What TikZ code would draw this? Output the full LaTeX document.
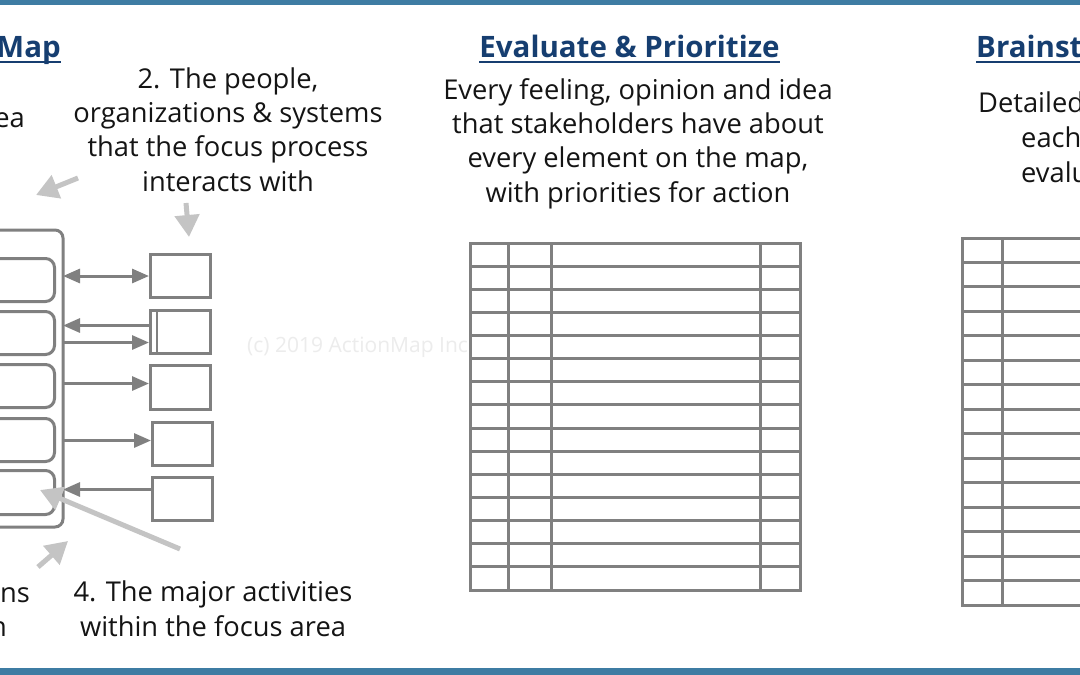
\documentclass[tikz,border=0pt]{standalone}
\usepackage{fontspec}
\setmainfont{Open Sans}
\usetikzlibrary{arrows.meta,calc}
\definecolor{barblue}{RGB}{62,124,163}
\definecolor{titleblue}{RGB}{22,62,112}
\definecolor{linegray}{RGB}{128,128,128}
\definecolor{lightgray}{RGB}{196,196,196}
\definecolor{wmgray}{RGB}{236,236,236}
\definecolor{txt}{RGB}{20,20,20}
\tikzset{
  title/.style={font=\fontsize{29.5}{34}\selectfont\bfseries, text=titleblue, inner sep=0pt},
  para/.style={font=\fontsize{27.3}{34.3}\selectfont, text=txt, inner sep=0pt, align=center},
  ulin/.style={titleblue, line width=2pt},
  actbox/.style={draw=linegray, line width=3pt, rounded corners=9pt, minimum width=80pt, inner sep=0pt},
  extbox/.style={draw=linegray, line width=3pt, rectangle, inner sep=0pt, minimum width=60pt, minimum height=43pt},
  conn/.style={draw=linegray, line width=3pt, -{Triangle[length=17pt,width=14pt]}},
  bconn/.style={draw=linegray, line width=3pt, {Triangle[length=17pt,width=14pt]}-{Triangle[length=17pt,width=14pt]}},
  hint/.style={draw=lightgray, line width=5pt, -{Triangle[length=22pt,width=24pt]}},
  tbl/.style={draw=linegray, line width=3pt},
  wm/.style={font=\fontsize{21}{24}\selectfont, text=wmgray, inner sep=0pt}
}
\begin{document}
\begin{tikzpicture}[x=1pt,y=-1pt]
\useasboundingbox (0,0) rectangle (1080,675);
\clip (0,0) rectangle (1080,675);
\fill[white] (0,0) rectangle (1080,675);
\fill[barblue] (0,0) rectangle (1080,5);
\fill[barblue] (0,668) rectangle (1080,675);

% watermark
\node[wm, anchor=base west] (wmark) at (247,352) {(c) 2019 ActionMap Inc.};

% titles
\node[title, anchor=base east] (tmap) at (61,57) {Map};
\draw[ulin] (0,62) -- (61,62);
\node[title, anchor=base] (teval) at (629.5,57) {Evaluate \& Prioritize};
\draw[ulin] (479,62) -- (780,62);
\node[title, anchor=base west] (tbrain) at (976,57) {Brainsto};
\draw[ulin] (976,62) -- (1080,62);

% left column texts (base anchor = last line)
\node[para, anchor=base east] (lea) at (25,127) {ea};
\node[para, anchor=base] (l2) at (228,191) {2. The people,\\organizations \& systems\\that the focus process\\interacts with};
\node[para, anchor=base east] (l3a) at (30,602) {ons};
\node[para, anchor=base east] (l3b) at (7,636) {n};
\node[para, anchor=base] (l4) at (213,636) {4. The major activities\\within the focus area};

% middle text
\node[para, anchor=base] (meval) at (638,202) {Every feeling, opinion and idea\\that stakeholders have about\\every element on the map,\\with priorities for action};

% right text
\node[para, anchor=base west] (rb1) at (978,112) {Detailed};
\node[para, anchor=base west] (rb2) at (1021,147) {each};
\node[para, anchor=base west] (rb3) at (1021,182) {evalu};

% focus area
\draw[draw=linegray, line width=3pt, rounded corners=8pt] (-30,230) rectangle (63,527);
\node[actbox, minimum height=43pt, anchor=north east] (a1) at (56,257) {};
\node[actbox, minimum height=43pt, anchor=north east] (a2) at (56,310) {};
\node[actbox, minimum height=43pt, anchor=north east] (a3) at (56,363) {};
\node[actbox, minimum height=43pt, anchor=north east] (a4) at (56,417) {};
\node[actbox, minimum height=44pt, anchor=north east] (a5) at (56,469) {};
\coordinate (fe) at (63,0);

% external boxes
\node[extbox, anchor=north west] (p1) at (149,253) {};
\node[extbox, anchor=north west] (p2) at (149,309) {};
\node[extbox, anchor=north west, minimum height=44pt] (p3) at (149,364) {};
\node[extbox, anchor=north west] (p4) at (151,421) {};
\node[extbox, anchor=north west] (p5) at (151,476) {};
\draw[draw=linegray, line width=2.5pt] ([xshift=8pt]p2.north west) -- ([xshift=8pt]p2.south west);

% connector end points
\coordinate (c2a) at ([yshift=6.5pt]p2.west);
\coordinate (c2b) at ([yshift=-10.5pt]p2.west);
\coordinate (c3) at ([yshift=4pt]p3.west);
\coordinate (c4) at ([yshift=3.5pt]p4.west);
\coordinate (c5) at ([yshift=9.5pt]p5.west);

% connectors
\draw[bconn] (fe |- p1.west) -- (p1.west);
\draw[conn] (c2a) -- (fe |- c2a);
\draw[conn] (fe |- c2b) -- (c2b);
\draw[conn] (fe |- c3) -- (c3);
\draw[conn] (fe |- c4) -- (c4);
\draw[conn] (c5) -- (fe |- c5);

% hint arrows
\coordinate (h1s) at (78,178); \coordinate (h1e) at (36,195);
\draw[hint] (h1s) -- (h1e);
\coordinate (h2s) at (186,203); \coordinate (h2e) at (189,237);
\draw[hint] (h2s) -- (h2e);
\coordinate (h3s) at (180,549); \coordinate (h3e) at (40,490);
\draw[hint] (h3s) -- (h3e);
\coordinate (h4s) at (38,567); \coordinate (h4e) at (68,541);
\draw[hint] (h4s) -- (h4e);

% table 1
\draw[tbl] (470,243) rectangle (800,590);
\foreach \i in {1,...,14} \draw[tbl] (470,{243+\i*347/15}) -- (800,{243+\i*347/15});
\foreach \x in {508,551,760} \draw[tbl] (\x,243) -- (\x,590);

% table 2
\draw[tbl] (962,238) rectangle (1100,605);
\foreach \i in {1,...,14} \draw[tbl] (962,{238+\i*367/15}) -- (1100,{238+\i*367/15});
\draw[tbl] (1002,238) -- (1002,605);
\end{tikzpicture}
\end{document}
